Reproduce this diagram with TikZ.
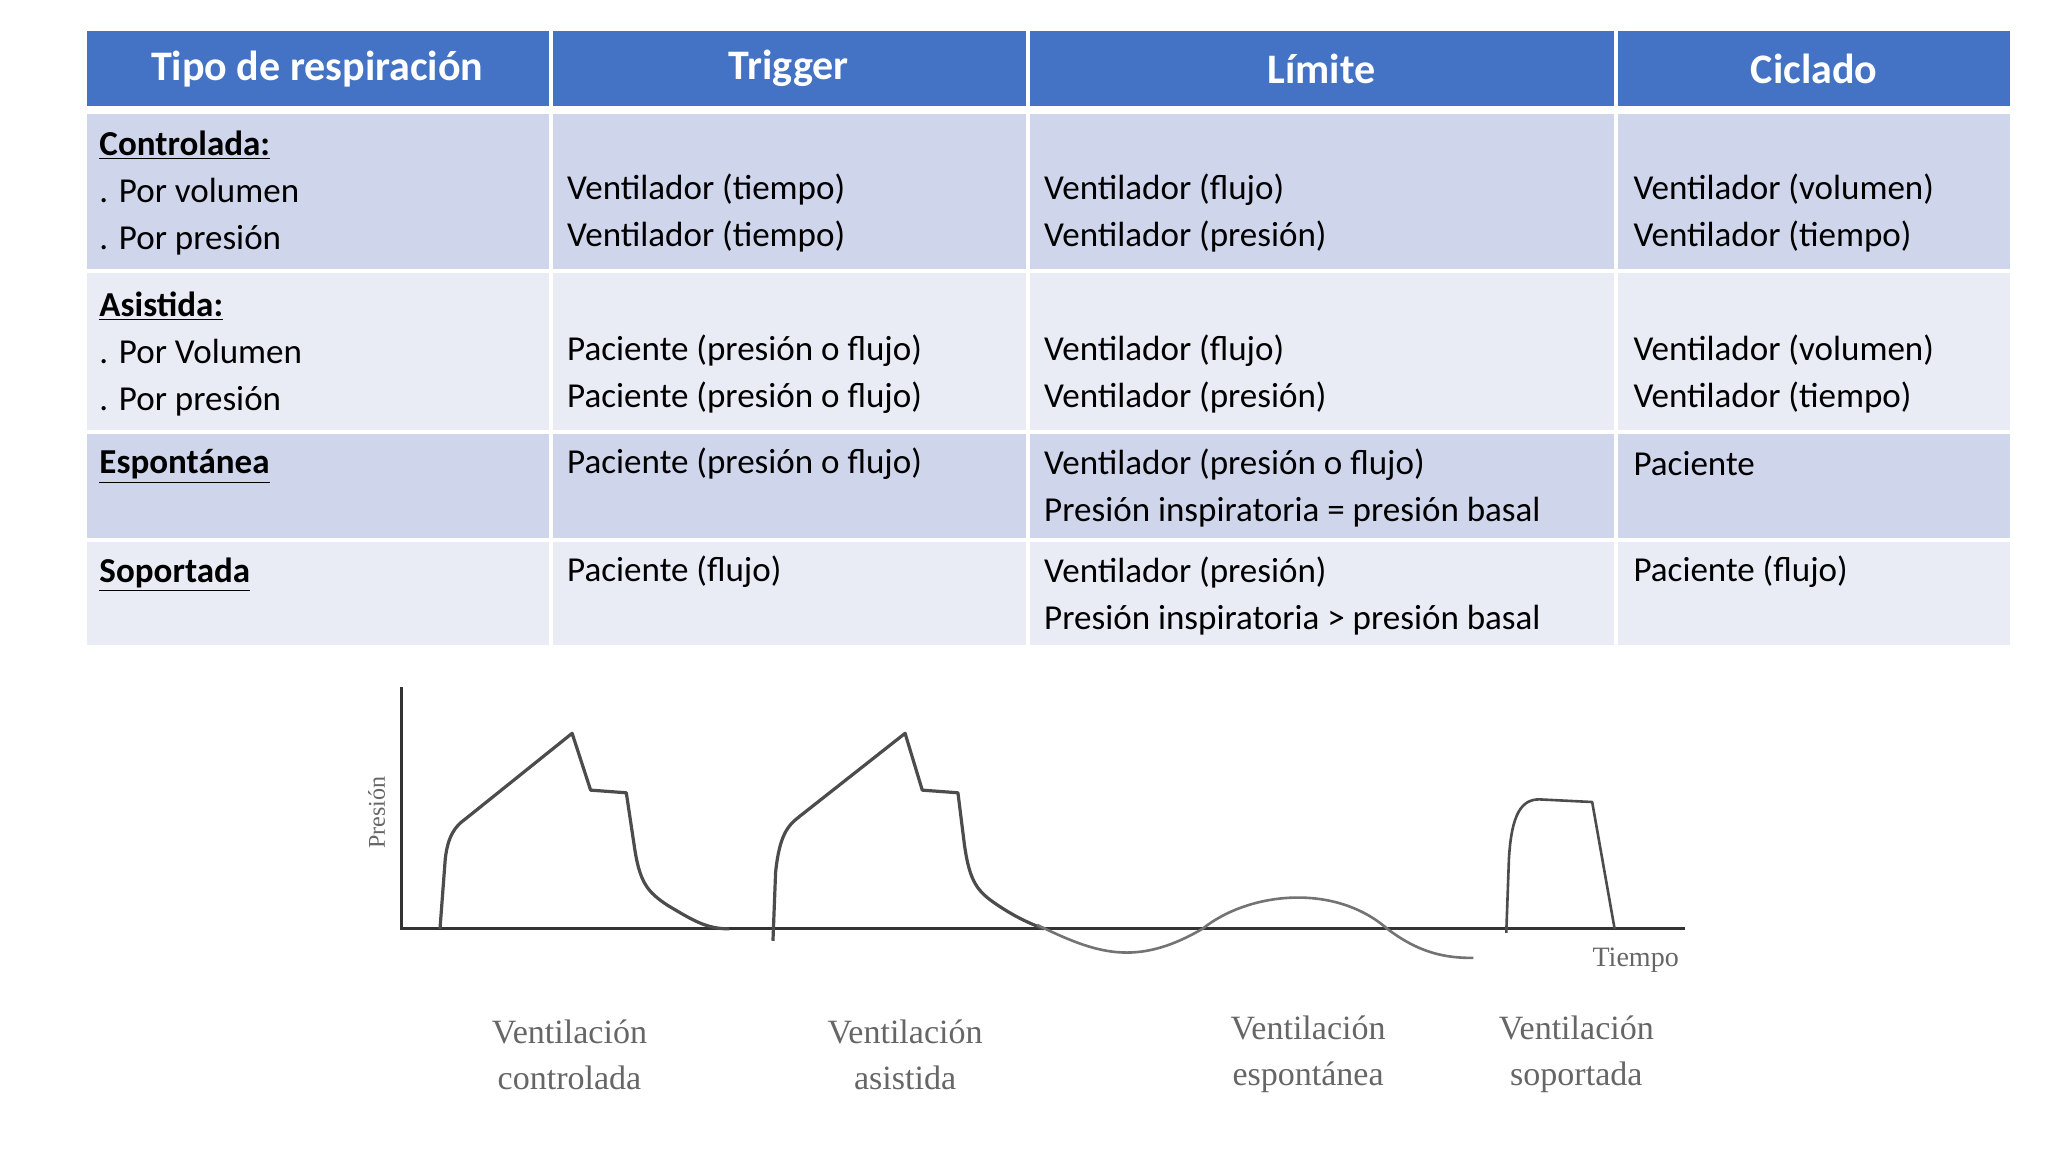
\documentclass[tikz,border=0pt]{standalone}
\usepackage{fontspec}
\setmainfont{Carlito}
\newfontfamily\serifchart{Liberation Serif}
\begin{document}
\begin{tikzpicture}[x=0.66pt,y=-0.66pt,
  hdr/.style={fill=hdrblue,draw=white,line width=2pt},
  rowa/.style={fill=rowdark,draw=white,line width=2pt},
  rowb/.style={fill=rowlight,draw=white,line width=2pt},
  htext/.style={text=white,font=\fontsize{21}{25}\selectfont\bfseries,anchor=center},
  btext/.style={font=\fontsize{17.5}{23.5}\selectfont,anchor=west,align=left,inner sep=0pt},
  wave/.style={draw=black!70,line width=1.6pt,line join=round},
  clab/.style={font=\serifchart\fontsize{17}{23}\selectfont,text=black!60,align=center,inner sep=0pt}]
\definecolor{hdrblue}{RGB}{68,114,196}
\definecolor{rowdark}{RGB}{207,213,234}
\definecolor{rowlight}{RGB}{233,235,245}
\useasboundingbox[fill=white] (0,0) rectangle (1550,872);
% header
\foreach \a/\b in {64/417,417/778,778/1223,1223/1523}{
  \path[hdr] (\a,22) rectangle (\b,82);}
\foreach \a/\b in {64/417,417/778,778/1223,1223/1523}{
  \path[rowa] (\a,85) rectangle (\b,205);
  \path[rowb] (\a,205) rectangle (\b,327);
  \path[rowa] (\a,327) rectangle (\b,409);
  \path[rowb] (\a,409) rectangle (\b,490);}
\node[htext] (h0) at (240,52) {Tipo de respiración};
\node[htext] (h1) at (597,52) {Trigger};
\node[htext] (h2) at (1000,52) {Límite};
\node[htext] (h3) at (1373,52) {Ciclado};
% row 1
\node[btext] (r1a) at (75,146) {\textbf{\underline{Controlada:}}\\. Por volumen\\. Por presión};
\node[btext] (r1b) at (429,161) {Ventilador (tiempo)\\Ventilador (tiempo)};
\node[btext] (r1c) at (790,161) {Ventilador (flujo)\\Ventilador (presión)};
\node[btext] (r1d) at (1236,161) {Ventilador (volumen)\\Ventilador (tiempo)};
% row 2
\node[btext] (r2a) at (75,268) {\textbf{\underline{Asistida:}}\\. Por Volumen\\. Por presión};
\node[btext] (r2b) at (429,283) {Paciente (presión o flujo)\\Paciente (presión o flujo)};
\node[btext] (r2c) at (790,283) {Ventilador (flujo)\\Ventilador (presión)};
\node[btext] (r2d) at (1236,283) {Ventilador (volumen)\\Ventilador (tiempo)};
% row 3
\node[btext] (r3a) at (75,353) {\textbf{\underline{Espontánea}}};
\node[btext] (r3b) at (429,351) {Paciente (presión o flujo)};
\node[btext] (r3c) at (790,369) {Ventilador (presión o flujo)\\Presión inspiratoria = presión basal};
\node[btext] (r3d) at (1236,351) {Paciente};
% row 4
\node[btext] (r4a) at (75,435) {\textbf{\underline{Soportada}}};
\node[btext] (r4b) at (429,433) {Paciente (flujo)};
\node[btext] (r4c) at (790,451) {Ventilador (presión)\\Presión inspiratoria > presión basal};
\node[btext] (r4d) at (1236,433) {Paciente (flujo)};
% chart
\draw[black!80,line width=1.6pt] (304,520) -- (304,703) -- (1275,703);
\draw[wave] (333,703) -- (337,650) .. controls (339,632) and (345,625) .. (352,620) -- (433,555) -- (447,598) -- (474,600) -- (480,640) .. controls (484,668) and (490,675) .. (505,685) .. controls (525,697) and (535,703) .. (552,703);
\draw[wave] (585,712) -- (587,660) .. controls (590,632) and (596,625) .. (605,618) -- (685,555) -- (698,598) -- (725,600) -- (730,640) .. controls (734,668) and (740,675) .. (755,685) .. controls (770,695) and (780,699) .. (790,703);
\draw[wave,line width=1.3pt,draw=black!55] (785,700) .. controls (830,722) and (860,732) .. (910,703) .. controls (945,675) and (1010,668) .. (1050,703) .. controls (1075,722) and (1095,725) .. (1115,725);
\draw[wave,line width=1.3pt] (1140,706) -- (1142,650) .. controls (1144,615) and (1152,605) .. (1165,605) -- (1205,607) -- (1222,703);
\node[clab,rotate=90,font=\serifchart\fontsize{12}{14}\selectfont] (yl) at (285,615) {Presión};
\begin{scope}
\clip (1190,700) rectangle (1275,750);
\node[clab,anchor=west,font=\serifchart\fontsize{14}{16}\selectfont] (xl) at (1205,727) {Tiempo};
\end{scope}
\node[clab] (l1) at (431,798) {Ventilación\\controlada};
\node[clab] (l2) at (685,798) {Ventilación\\asistida};
\node[clab] (l3) at (990,798) {Ventilación\\espontánea};
\node[clab] (l4) at (1193,798) {Ventilación\\soportada};
\end{tikzpicture}
\end{document}
